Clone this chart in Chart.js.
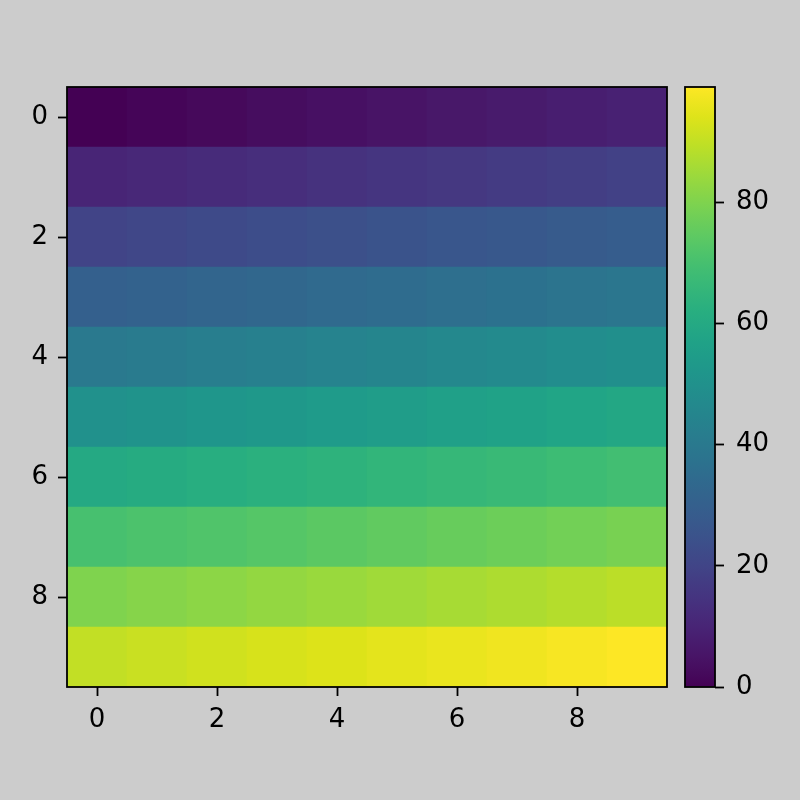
<!DOCTYPE html>
<html>
<head>
<meta charset="utf-8">
<script src="https://cdn.jsdelivr.net/npm/chart.js@4/dist/chart.umd.min.js"></script>
<style>
  html, body { margin: 0; padding: 0; background: #cccccc; }
  #wrap { position: relative; width: 800px; height: 800px; background: #cccccc; }
  #wrap canvas { position: absolute; left: 0; top: 0; }
</style>
</head>
<body>
<div id="wrap">
  <canvas id="heat" width="800" height="800"></canvas>
  <canvas id="cbar" width="800" height="800"></canvas>
</div>
<script>
// ---- data ----
const rowIndex = [0, 1, 2, 3, 4, 5, 6, 7, 8, 9];
const colIndex = [0, 1, 2, 3, 4, 5, 6, 7, 8, 9];
const values = [
  [0, 1, 2, 3, 4, 5, 6, 7, 8, 9],
  [10, 11, 12, 13, 14, 15, 16, 17, 18, 19],
  [20, 21, 22, 23, 24, 25, 26, 27, 28, 29],
  [30, 31, 32, 33, 34, 35, 36, 37, 38, 39],
  [40, 41, 42, 43, 44, 45, 46, 47, 48, 49],
  [50, 51, 52, 53, 54, 55, 56, 57, 58, 59],
  [60, 61, 62, 63, 64, 65, 66, 67, 68, 69],
  [70, 71, 72, 73, 74, 75, 76, 77, 78, 79],
  [80, 81, 82, 83, 84, 85, 86, 87, 88, 89],
  [90, 91, 92, 93, 94, 95, 96, 97, 98, 99]
];
const xTicks = [0, 2, 4, 6, 8];
const yTicks = [0, 2, 4, 6, 8];
const cbarTicks = [0, 20, 40, 60, 80];
const vmin = 0;
const vmax = 99;

// ---- viridis colormap ----
const viridis = ['#440154','#481567','#482677','#453781','#404788','#39568C','#33638D','#2D708E','#287D8E','#238A8D',
                 '#1F968B','#20A387','#29AF7F','#3CBB75','#55C667','#73D055','#95D840','#B8DE29','#DCE319','#FDE725'];
function hexToRgb(h) { return [parseInt(h.slice(1,3),16), parseInt(h.slice(3,5),16), parseInt(h.slice(5,7),16)]; }
const viridisRgb = viridis.map(hexToRgb);
function cmap(t) {
  t = Math.max(0, Math.min(1, t));
  const n = viridisRgb.length - 1;
  const p = t * n;
  const i = Math.min(Math.floor(p), n - 1);
  const f = p - i;
  const a = viridisRgb[i], b = viridisRgb[i + 1];
  const c = a.map((v, k) => Math.round(v + (b[k] - v) * f));
  return `rgb(${c[0]},${c[1]},${c[2]})`;
}

Chart.defaults.font.family = '"DejaVu Sans", sans-serif';
Chart.defaults.font.size = 26;
Chart.defaults.color = '#000000';
Chart.defaults.animation = false;

const frame = {
  id: 'frame',
  afterDatasetsDraw(chart) {
    const a = chart.chartArea, ctx = chart.ctx;
    ctx.save();
    ctx.strokeStyle = '#000';
    ctx.lineWidth = 1.8;
    ctx.strokeRect(a.left, a.top, a.right - a.left, a.bottom - a.top);
    ctx.restore();
  }
};

// ---- heatmap cells as floating horizontal bars ----
const cells = [];
const cellColors = [];
rowIndex.forEach((r, ri) => {
  colIndex.forEach((c, ci) => {
    cells.push({ x: [c - 0.5, c + 0.5], y: r });
    cellColors.push(cmap((values[ri][ci] - vmin) / (vmax - vmin)));
  });
});

const tickGrid = { drawOnChartArea: false, drawTicks: true, tickLength: 9, tickWidth: 1.8, tickColor: '#000', offset: false };

new Chart(document.getElementById('heat'), {
  type: 'bar',
  data: {
    datasets: [{
      data: cells,
      backgroundColor: cellColors,
      borderWidth: 0,
      barPercentage: 1.0,
      categoryPercentage: 1.0
    }]
  },
  options: {
    indexAxis: 'y',
    responsive: false,
    layout: { padding: { left: 0, top: 87, right: 133, bottom: 0 } },
    plugins: { legend: { display: false }, tooltip: { enabled: false } },
    scales: {
      x: {
        type: 'linear',
        position: 'bottom',
        offset: false,
        min: -0.5, max: 9.5,
        afterBuildTicks: s => { s.ticks = xTicks.map(v => ({ value: v })); },
        afterFit: s => { s.height = 113; },
        ticks: { padding: 9, maxRotation: 0, autoSkip: false },
        grid: tickGrid,
        border: { display: false }
      },
      y: {
        type: 'linear',
        position: 'left',
        offset: false,
        reverse: true,
        min: -0.5, max: 9.5,
        afterBuildTicks: s => { s.ticks = yTicks.map(v => ({ value: v })); },
        afterFit: s => { s.width = 67; },
        ticks: { padding: 10, autoSkip: false },
        grid: tickGrid,
        border: { display: false }
      }
    }
  },
  plugins: [frame]
});

// ---- colorbar ----
new Chart(document.getElementById('cbar'), {
  type: 'bar',
  data: {
    labels: ['cb'],
    datasets: [{
      data: [[vmin, vmax]],
      borderWidth: 0,
      barPercentage: 1.0,
      categoryPercentage: 1.0,
      backgroundColor: (ctx) => {
        const chart = ctx.chart;
        const ys = chart.scales.y;
        if (!ys || !chart.chartArea) return cmap(0.5);
        const y0 = ys.getPixelForValue(vmin), y1 = ys.getPixelForValue(vmax);
        const g = chart.ctx.createLinearGradient(0, y0, 0, y1);
        for (let k = 0; k <= 40; k++) g.addColorStop(k / 40, cmap(k / 40));
        return g;
      }
    }]
  },
  options: {
    responsive: false,
    layout: { padding: { left: 685, top: 87, right: 0, bottom: 113 } },
    plugins: { legend: { display: false }, tooltip: { enabled: false } },
    scales: {
      x: { display: false },
      y: {
        type: 'linear',
        position: 'right',
        min: vmin, max: vmax,
        afterBuildTicks: s => { s.ticks = cbarTicks.map(v => ({ value: v })); },
        afterFit: s => { s.width = 85; },
        ticks: { padding: 12, autoSkip: false },
        grid: tickGrid,
        border: { display: false }
      }
    }
  },
  plugins: [frame]
});
</script>
</body>
</html>
